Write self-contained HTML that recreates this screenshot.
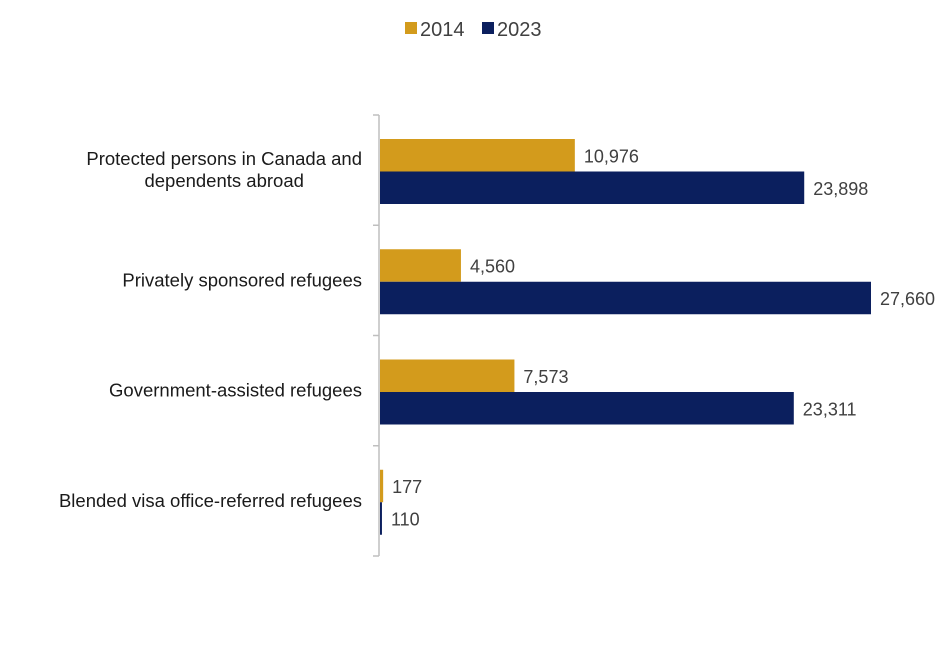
<!DOCTYPE html>
<html><head><meta charset="utf-8"><style>
body{margin:0;background:#fff;}
svg text{font-family:"Liberation Sans",Arial,sans-serif;}
</style></head><body>
<svg id="chart" width="940" height="660">
<g>
 <rect x="405" y="22" width="12" height="12" fill="#D39B1C"/>
 <text x="420" y="36" font-size="20" fill="#404040">2014</text>
 <rect x="482" y="22" width="12" height="12" fill="#0B1F5E"/>
 <text x="497" y="36" font-size="20" fill="#404040">2023</text>
</g>
<g id="plot"></g>
</svg>
<script>
const categories=[["Protected persons in Canada and","dependents abroad"],["Privately sponsored refugees"],["Government-assisted refugees"],["Blended visa office-referred refugees"]];
const values2014=[10976,4560,7573,177];
const values2023=[23898,27660,23311,110];
const x0=379,xScale=491/27660,plotTop=115,band=110.25;
const xPos=v=>x0+v*xScale;
const ns="http://www.w3.org/2000/svg",g=document.getElementById('plot');
function mk(t,a){const e=document.createElementNS(ns,t);for(const k in a)e.setAttribute(k,a[k]);g.appendChild(e);return e;}
const ax=mk('line',{x1:x0,y1:plotTop,x2:x0,y2:plotTop+band*4,stroke:'#BFBFBF','stroke-width':1.5});


for(let i=0;i<=4;i++){const t=mk('line',{x1:x0-6,x2:x0,y1:plotTop+band*i,y2:plotTop+band*i,stroke:'#BFBFBF','stroke-width':1.5});

}
const fmt=v=>v.toLocaleString('en-US');
categories.forEach((c,i)=>{
 const y0=plotTop+band*i+24,h=32.5;
 [[values2014[i],'#D39B1C','2014'],[values2023[i],'#0B1F5E','2023']].forEach(([v,col,yr],j)=>{
  const y=y0+j*h;
  const r=mk('rect',{x:x0+1,y:y,width:Math.max(1.5,xPos(v)-x0),height:h,fill:col});
  
  
  const t=mk('text',{x:xPos(v)+10,y:y+h/2+7,'font-size':18,fill:'#404040'});
  t.textContent=fmt(v);
  
  
 });
 const cy=plotTop+band*i+band/2;
 const lines=[];
 c.forEach((ln,k)=>{
  const t=mk('text',{x:362,y:cy+6+(k-(c.length-1)/2)*22,'font-size':18.5,fill:'#1a1a1a','text-anchor':'end'});
  t.textContent=ln;
  
  
  lines.push(t);
 });
 if(lines.length>1){
  const w=Math.max(...lines.map(t=>t.getComputedTextLength()));
  lines.forEach(t=>{t.setAttribute('text-anchor','middle');t.setAttribute('x',362-w/2);});
 }
});
</script>
</body></html>
